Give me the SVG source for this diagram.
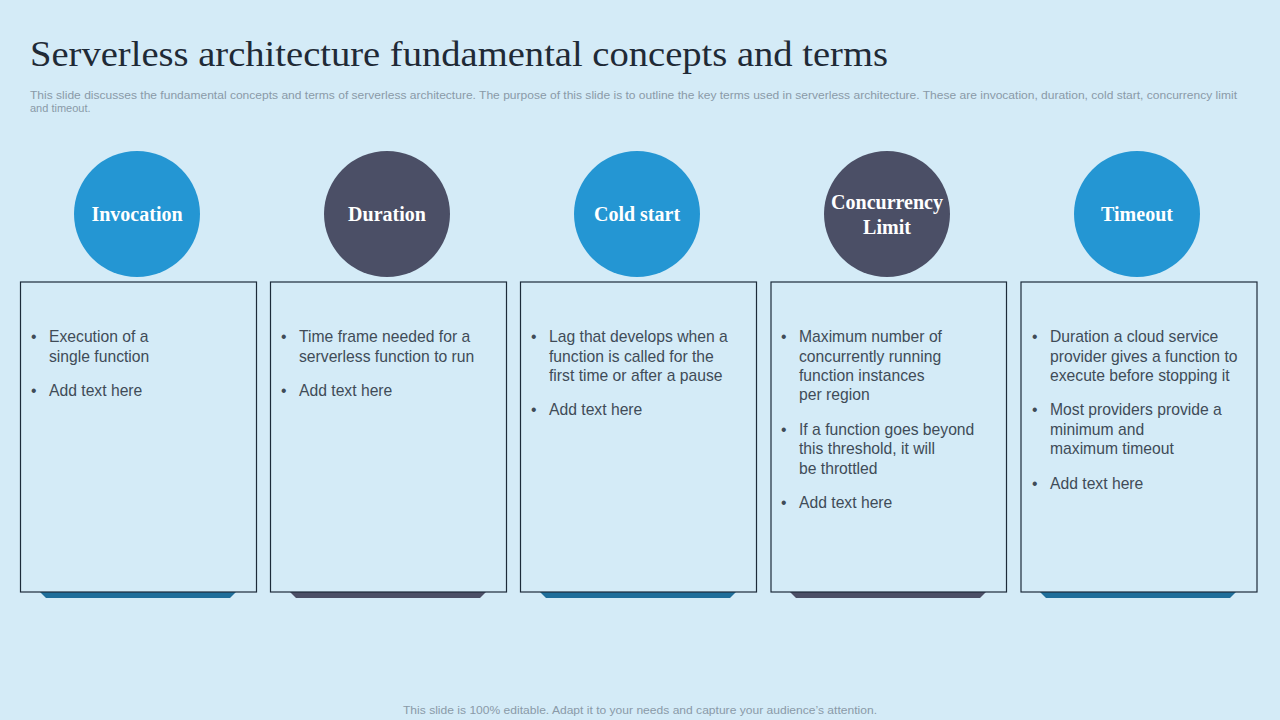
<svg xmlns="http://www.w3.org/2000/svg" width="1280" height="720" viewBox="0 0 1280 720">
<style>
.title{font-family:"Liberation Serif",serif;font-size:35px;fill:#1f2a36}
.sub{font-family:"Liberation Sans",sans-serif;font-size:11px;fill:#8a9aa8}
.foot{font-family:"Liberation Sans",sans-serif;font-size:11.5px;fill:#8a9aa8}
.lbl{font-family:"Liberation Serif",serif;font-size:20px;font-weight:bold;fill:#ffffff;text-anchor:middle}
.body{font-family:"Liberation Sans",sans-serif;font-size:15.7px;fill:#404b57}
.box{fill:#d4ebf7;stroke:#1d2b3a;stroke-width:1.2}
.blue{fill:#2496d3}
.dark{fill:#4b4f66}
.tabblue{fill:#1f6e9a}
.tabdark{fill:#4b4f66}
</style>
<rect width="1280" height="720" fill="#d4ebf7"/>
<text class="title" x="30" y="66" textLength="858" lengthAdjust="spacingAndGlyphs">Serverless architecture fundamental concepts and terms</text>
<text class="sub" x="30" y="99" textLength="1207" lengthAdjust="spacingAndGlyphs">This slide discusses the fundamental concepts and terms of serverless architecture. The purpose of this slide is to outline the key terms used in serverless architecture. These are invocation, duration, cold start, concurrency limit</text>
<text class="sub" x="30" y="112">and timeout.</text>

<g id="node-invocation">
<path class="tabblue" d="M40 592 H236 L230 598 H46 Z"/>
<rect class="box" x="20.5" y="282" width="236" height="310"/>
<circle class="blue" cx="137" cy="214" r="63"/>
<text class="lbl" x="137" y="221">Invocation</text>
<text class="body"><tspan x="31" y="342">•</tspan><tspan x="49" y="342">Execution of a</tspan><tspan x="49" y="361.5">single function</tspan><tspan x="31" y="396">•</tspan><tspan x="49" y="396">Add text here</tspan></text>
</g>

<g id="node-duration">
<path class="tabdark" d="M290 592 H486 L480 598 H296 Z"/>
<rect class="box" x="270.5" y="282" width="236" height="310"/>
<circle class="dark" cx="387" cy="214" r="63"/>
<text class="lbl" x="387" y="221">Duration</text>
<text class="body"><tspan x="281" y="342">•</tspan><tspan x="299" y="342">Time frame needed for a</tspan><tspan x="299" y="361.5">serverless function to run</tspan><tspan x="281" y="396">•</tspan><tspan x="299" y="396">Add text here</tspan></text>
</g>

<g id="node-coldstart">
<path class="tabblue" d="M540 592 H736 L730 598 H546 Z"/>
<rect class="box" x="520.5" y="282" width="236" height="310"/>
<circle class="blue" cx="637" cy="214" r="63"/>
<text class="lbl" x="637" y="221">Cold start</text>
<text class="body"><tspan x="531" y="342">•</tspan><tspan x="549" y="342">Lag that develops when a</tspan><tspan x="549" y="361.5">function is called for the</tspan><tspan x="549" y="381">first time or after a pause</tspan><tspan x="531" y="415">•</tspan><tspan x="549" y="415">Add text here</tspan></text>
</g>

<g id="node-concurrency">
<path class="tabdark" d="M790 592 H986 L980 598 H796 Z"/>
<rect class="box" x="771" y="282" width="235.5" height="310"/>
<circle class="dark" cx="887" cy="214" r="63"/>
<text class="lbl" x="887" y="209">Concurrency</text>
<text class="lbl" x="887" y="234">Limit</text>
<text class="body"><tspan x="781" y="342">•</tspan><tspan x="799" y="342">Maximum number of</tspan><tspan x="799" y="361.5">concurrently running</tspan><tspan x="799" y="381">function instances</tspan><tspan x="799" y="400">per region</tspan><tspan x="781" y="434.5">•</tspan><tspan x="799" y="434.5">If a function goes beyond</tspan><tspan x="799" y="454">this threshold, it will</tspan><tspan x="799" y="473.5">be throttled</tspan><tspan x="781" y="508">•</tspan><tspan x="799" y="508">Add text here</tspan></text>
</g>

<g id="node-timeout">
<path class="tabblue" d="M1040 592 H1236 L1230 598 H1046 Z"/>
<rect class="box" x="1021" y="282" width="236" height="310"/>
<circle class="blue" cx="1137" cy="214" r="63"/>
<text class="lbl" x="1137" y="221">Timeout</text>
<text class="body"><tspan x="1032" y="342">•</tspan><tspan x="1050" y="342">Duration a cloud service</tspan><tspan x="1050" y="361.5">provider gives a function to</tspan><tspan x="1050" y="381">execute before stopping it</tspan><tspan x="1032" y="415">•</tspan><tspan x="1050" y="415">Most providers provide a</tspan><tspan x="1050" y="434.5">minimum and</tspan><tspan x="1050" y="454">maximum timeout</tspan><tspan x="1032" y="489">•</tspan><tspan x="1050" y="489">Add text here</tspan></text>
</g>

<g id="connectors"></g>

<text class="foot" x="640" y="714" text-anchor="middle" textLength="474" lengthAdjust="spacingAndGlyphs">This slide is 100% editable. Adapt it to your needs and capture your audience’s attention.</text>
</svg>
